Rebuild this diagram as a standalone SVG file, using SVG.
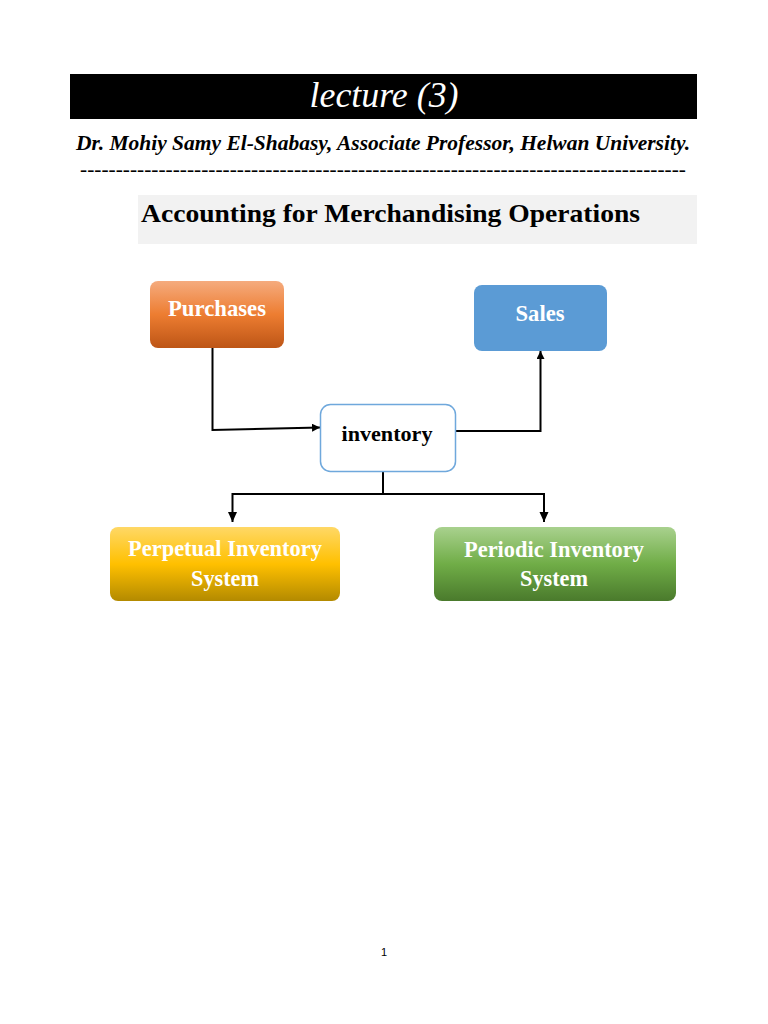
<svg xmlns="http://www.w3.org/2000/svg" width="768" height="1024" viewBox="0 0 768 1024">
<defs>
<linearGradient id="gOrange" x1="0" y1="0" x2="0" y2="1">
<stop offset="0" stop-color="#f5ab7e"/><stop offset="0.5" stop-color="#ed7d31"/><stop offset="1" stop-color="#bd5516"/>
</linearGradient>
<linearGradient id="gYellow" x1="0" y1="0" x2="0" y2="1">
<stop offset="0" stop-color="#ffd866"/><stop offset="0.5" stop-color="#ffc000"/><stop offset="1" stop-color="#b38a00"/>
</linearGradient>
<linearGradient id="gGreen" x1="0" y1="0" x2="0" y2="1">
<stop offset="0" stop-color="#a9d18e"/><stop offset="0.5" stop-color="#70ad47"/><stop offset="1" stop-color="#4a7a2c"/>
</linearGradient>
<marker id="arr" viewBox="0 0 10 10" refX="10" refY="5" markerWidth="4" markerHeight="4" orient="auto" markerUnits="strokeWidth">
<path d="M0,0 L10,5 L0,10 z" fill="#000"/>
</marker>
</defs>
<style>
.serif{font-family:"Liberation Serif","Times New Roman",serif;}
.lbl{font-family:"Liberation Serif","Times New Roman",serif;font-weight:bold;font-size:23px;fill:#fff;text-anchor:middle;}
.conn{fill:none;stroke:#000;stroke-width:2;}
</style>
<rect width="768" height="1024" fill="#fff"/>
<g id="header">
<rect x="70" y="74" width="627" height="45" fill="#000"/>
<text x="384" y="107" class="serif" font-size="35" font-style="italic" fill="#fff" text-anchor="middle" textLength="149" lengthAdjust="spacingAndGlyphs">lecture (3)</text>
<text x="383" y="150" class="serif" font-size="20" font-weight="bold" font-style="italic" fill="#000" text-anchor="middle" textLength="614" lengthAdjust="spacingAndGlyphs">Dr. Mohiy Samy El-Shabasy, Associate Professor, Helwan University.</text>
<text x="383" y="176" class="serif" font-size="18" font-weight="bold" fill="#000" text-anchor="middle" textLength="606" lengthAdjust="spacingAndGlyphs">-------------------------------------------------------------------------------------</text>
<rect x="138" y="195" width="559" height="49" fill="#f2f2f2"/>
<text x="141" y="222" class="serif" font-size="26" font-weight="bold" fill="#000" textLength="499" lengthAdjust="spacingAndGlyphs">Accounting for Merchandising Operations</text>
</g>
<g id="connectors">
<polyline class="conn" points="212.5,348 212.5,430 320,427.5" marker-end="url(#arr)"/>
<polyline class="conn" points="455.5,431 540.5,431 540.5,351" marker-end="url(#arr)"/>
<polyline class="conn" points="383,472 383,495"/>
<polyline class="conn" points="232.5,522 232.5,494 544,494 544,522" />
<path d="M228,512 L232.5,522 L237,512 z" fill="#000"/>
<path d="M539.5,512 L544,522 L548.5,512 z" fill="#000"/>
</g>
<g id="purchases">
<rect x="150" y="281" width="134" height="67" rx="8" fill="url(#gOrange)"/>
<text x="217" y="316" class="lbl" textLength="98" lengthAdjust="spacingAndGlyphs">Purchases</text>
</g>
<g id="sales">
<rect x="474" y="285" width="133" height="66" rx="8" fill="#5b9bd5"/>
<text x="540" y="321" class="lbl" textLength="49" lengthAdjust="spacingAndGlyphs">Sales</text>
</g>
<g id="inventory">
<rect x="320.5" y="404.5" width="135" height="67" rx="10" fill="#fff" stroke="#6fa8dc" stroke-width="1.5"/>
<text x="387" y="441" class="serif" font-size="22" font-weight="bold" fill="#000" text-anchor="middle" textLength="91" lengthAdjust="spacingAndGlyphs">inventory</text>
</g>
<g id="perpetual">
<rect x="110" y="527" width="230" height="74" rx="8" fill="url(#gYellow)"/>
<text x="225" y="556" class="lbl" textLength="194" lengthAdjust="spacingAndGlyphs">Perpetual Inventory</text>
<text x="225" y="586" class="lbl" textLength="68" lengthAdjust="spacingAndGlyphs">System</text>
</g>
<g id="periodic">
<rect x="434" y="527" width="242" height="74" rx="8" fill="url(#gGreen)"/>
<text x="554" y="557" class="lbl" textLength="180" lengthAdjust="spacingAndGlyphs">Periodic Inventory</text>
<text x="554" y="586" class="lbl" textLength="68" lengthAdjust="spacingAndGlyphs">System</text>
</g>
<text x="384" y="956" font-family="Liberation Sans, Arial, sans-serif" font-size="11" fill="#000" text-anchor="middle">1</text>
</svg>
